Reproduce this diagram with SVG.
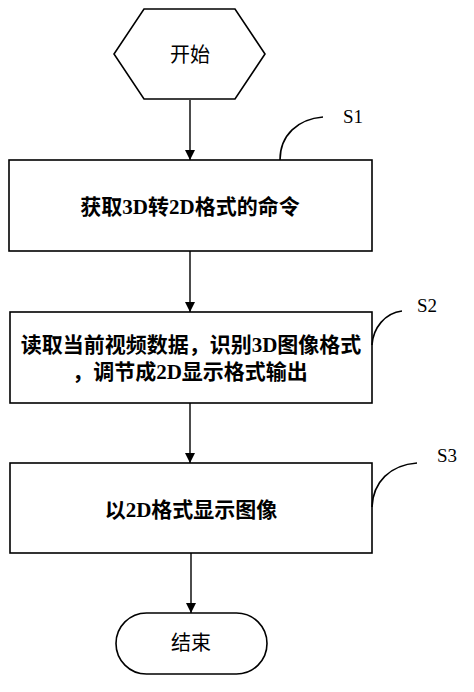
<svg xmlns="http://www.w3.org/2000/svg" width="474" height="692" viewBox="0 0 474 692">
<defs>
<marker id="ah" viewBox="0 0 10 16" refX="10" refY="8" markerWidth="10" markerHeight="16" markerUnits="userSpaceOnUse" orient="auto">
<path d="M0,3 L10,8 L0,13 Z" fill="#000"/>
</marker>
<style>
.shape{fill:#fff;stroke:#000;stroke-width:1.6}
.conn{fill:none;stroke:#000;stroke-width:1.4}
.lead{fill:none;stroke:#000;stroke-width:1.6}
.t{font-family:"Liberation Serif","Noto Sans CJK SC",serif;font-size:21px;text-anchor:middle;dominant-baseline:central;fill:#000}
.b{font-weight:bold}
.s{font-family:"Liberation Serif",serif;font-size:19px;fill:#000}
</style>
</defs>
<rect width="474" height="692" fill="#fff"/>
<g id="connectors">
<line class="conn" x1="190" y1="100" x2="190" y2="160" marker-end="url(#ah)"/>
<line class="conn" x1="190" y1="251" x2="190" y2="312" marker-end="url(#ah)"/>
<line class="conn" x1="190" y1="403" x2="190" y2="463" marker-end="url(#ah)"/>
<line class="conn" x1="191" y1="553" x2="191" y2="613" marker-end="url(#ah)"/>
</g>
<g id="start">
<polygon class="shape" points="144,9 235,9 265,54 235,99 144,99 114,54"/>
<text class="t" x="190" y="55" style="font-size:20px">开始</text>
</g>
<g id="s1">
<rect class="shape" x="9" y="160" width="363" height="91"/>
<text class="t b" x="190" y="207">获取3D转2D格式的命令</text>
<path class="lead" d="M323,117 C298,119 280,135 280,160"/>
<text class="s" x="343" y="123">S1</text>
</g>
<g id="s2">
<rect class="shape" x="10" y="312" width="362" height="91"/>
<text class="t b" x="191" y="345">读取当前视频数据，识别3D图像格式</text>
<text class="t b" x="190" y="372">，调节成2D显示格式输出</text>
<path class="lead" d="M402,311 C385,313 373,328 372,345"/>
<text class="s" x="417" y="312">S2</text>
</g>
<g id="s3">
<rect class="shape" x="10" y="463" width="362" height="90"/>
<text class="t b" x="191" y="510">以2D格式显示图像</text>
<path class="lead" d="M417,463 C390,465 373,482 372,507"/>
<text class="s" x="437" y="462">S3</text>
</g>
<g id="end">
<rect class="shape" x="116" y="613" width="151" height="61" rx="30.5" ry="30.5"/>
<text class="t" x="191" y="643" style="font-size:20px">结束</text>
</g>
</svg>
